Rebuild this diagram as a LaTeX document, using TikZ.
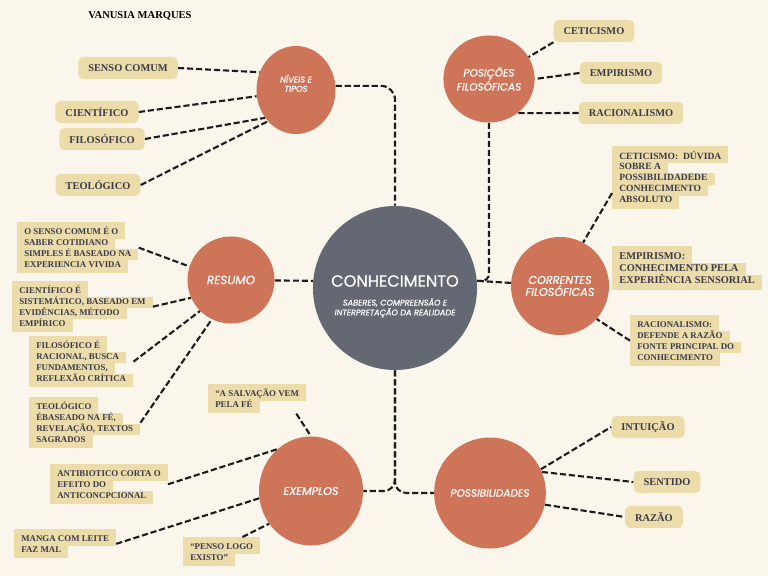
\documentclass[tikz,border=0pt]{standalone}
\usepackage{fontspec}
\setmainfont{Liberation Serif}
\newfontfamily\circfont{Poppins}[FakeBold=0.6]
\usetikzlibrary{shapes.geometric,calc}
\definecolor{paper}{HTML}{FAF6EB}
\definecolor{clay}{HTML}{CD7459}
\definecolor{slate}{HTML}{646873}
\definecolor{sand}{HTML}{EBDCAA}
\definecolor{ink}{HTML}{3B3B4A}
\definecolor{wire}{HTML}{1C1C1C}
\newcommand{\notelines}{\lineskiplimit=-20pt\lineskip=0pt}
% one highlighted line of a note; first line padded above, last line below
\newcommand{\hlbox}[3]{{\setlength{\fboxsep}{0pt}\colorbox{sand}{\hspace{5pt}\rule[\dimexpr-0.34\baselineskip-#1\relax]{0pt}{\dimexpr\baselineskip+0.3pt+#1+#2\relax}#3\hspace{5pt}}}}
\newcommand{\hl}[1]{\hlbox{0pt}{0pt}{#1}}
\newcommand{\hltop}[1]{\hlbox{0pt}{3.6pt}{#1}}
\newcommand{\hlend}[1]{\hlbox{1.4pt}{0pt}{#1}}

\begin{document}
\begin{tikzpicture}[x=0.025cm, y=-0.025cm,
  topic/.style 2 args={ellipse, fill=clay, text=white, align=center, inner sep=0pt, minimum width=#1, minimum height=#2},
  tag/.style={rectangle, rounded corners=3.5pt, fill=sand, text=ink, inner xsep=0.25cm, minimum height=0.55cm, font=\bfseries\fontsize{7.4}{8.8}\selectfont},
  note/.style={anchor=north west, inner sep=0pt, align=left, text=ink, font=\bfseries\fontsize{6.3}{7.7}\selectfont\notelines},
  link/.style={draw=wire, line width=1.5pt, dash pattern=on 4.4pt off 2pt}
]
  \useasboundingbox (0,0) rectangle (768,576);
  \fill[paper] (0,0) rectangle (768,576);

  \node[font=\bfseries\fontsize{7.5}{9}\selectfont] (author) at (140,16) {VANUSIA MARQUES};

  % circles
  \node[topic={4.1cm}{4.1cm}, fill=slate] (central) at (395,288) {};
  \node[text=white, font=\circfont\fontsize{11.5}{13}\selectfont] (centraltitle) at (395,281) {CONHECIMENTO};
  \node[text=white, align=center, font=\circfont\itshape\fontsize{5.8}{7}\selectfont] (centralsub) at (395,308) {SABERES, COMPREENSÃO E\\INTERPRETAÇÃO DA REALIDADE};
  \node[topic={1.975cm}{2.2cm}, font=\circfont\itshape\fontsize{6}{6.6}\selectfont] (niveis) at (296,90) {NÍVEIS E\\TIPOS\\[3pt]};
  \node[topic={2.175cm}{2.175cm}, font=\circfont\itshape\fontsize{7.5}{8.5}\selectfont] (posicoes) at (489,79) {POSIÇÕES\\FILOSÓFICAS};
  \node[topic={2.45cm}{2.45cm}, font=\circfont\itshape\fontsize{8}{8.5}\selectfont] (correntes) at (560,286) {CORRENTES\\FILOSÓFICAS};
  \node[topic={2.175cm}{2.175cm}, font=\circfont\itshape\fontsize{8.5}{9}\selectfont] (resumo) at (231,280) {RESUMO};
  \node[topic={2.6cm}{2.725cm}, font=\circfont\itshape\fontsize{8}{9}\selectfont] (exemplos) at (311,491) {EXEMPLOS};
  \node[topic={2.675cm}{2.775cm}, font=\circfont\itshape\fontsize{7.5}{9}\selectfont] (possib) at (490,493) {POSSIBILIDADES};

  % tags
  \node[tag] (senso) at (128,68) {SENSO COMUM};
  \node[tag] (cient) at (97,112) {CIENTÍFICO};
  \node[tag] (filo) at (102,139) {FILOSÓFICO};
  \node[tag] (teo) at (98,185) {TEOLÓGICO};
  \node[tag] (cet) at (594,31) {CETICISMO};
  \node[tag] (emp) at (621,73) {EMPIRISMO};
  \node[tag] (rac) at (631,113) {RACIONALISMO};
  \node[tag] (intu) at (648,427) {INTUIÇÃO};
  \node[tag] (sent) at (667,482) {SENTIDO};
  \node[tag] (razao) at (654,517) {RAZÃO};

  % notes
  \node[note] (sensonote) at (17,222) {\hltop{O SENSO COMUM É O}\\\hl{SABER COTIDIANO}\\\hl{SIMPLES É BASEADO NA}\\\hlend{EXPERIENCIA VIVIDA}};
  \node[note] (cientnote) at (12,281) {\hltop{CIENTÍFICO É}\\\hl{SISTEMÁTICO, BASEADO EM}\\\hl{EVIDÊNCIAS, MÉTODO}\\\hlend{EMPÍRICO}};
  \node[note] (filonote) at (29,336) {\hltop{FILOSÓFICO É}\\\hl{RACIONAL, BUSCA}\\\hl{FUNDAMENTOS,}\\\hlend{REFLEXÃO CRÍTICA}};
  \node[note] (teonote) at (29,397) {\hltop{TEOLÓGICO}\\\hl{ÉBASEADO NA FÉ,}\\\hl{REVELAÇÃO, TEXTOS}\\\hlend{SAGRADOS}};
  \node[note] (salvnote) at (208,384) {\hltop{“A SALVAÇÃO VEM}\\\hlend{PELA FÉ}};
  \node[note] (antinote) at (50,464) {\hltop{ANTIBIOTICO CORTA O}\\\hl{EFEITO DO}\\\hlend{ANTICONCPCIONAL}};
  \node[note] (manganote) at (14,529) {\hltop{MANGA COM LEITE}\\\hlend{FAZ MAL}};
  \node[note] (pensonote) at (183,537) {\hltop{“PENSO LOGO}\\\hlend{EXISTO”}};
  \node[note, font=\bfseries\fontsize{6.8}{7.8}\selectfont\notelines] (cetnote) at (612,146) {\hltop{CETICISMO:\ \ DÚVIDA}\\\hl{SOBRE A}\\\hl{POSSIBILIDADEDE}\\\hl{CONHECIMENTO}\\\hlend{ABSOLUTO}};
  \node[note, font=\bfseries\fontsize{7.4}{8.6}\selectfont\notelines] (empnote) at (612,246) {\hltop{EMPIRISMO:}\\\hl{CONHECIMENTO PELA}\\\hlend{EXPERIÊNCIA SENSORIAL}};
  \node[note] (racnote) at (630,315) {\hltop{RACIONALISMO:}\\\hl{DEFENDE A RAZÃO}\\\hl{FONTE PRINCIPAL DO}\\\hlend{CONHECIMENTO}};

  % main links
  \draw[link, rounded corners=10pt] (niveis.6) -| (central.north);
  \draw[link, rounded corners=5pt] (posicoes.south) |- (central.5);
  \draw[link] (correntes) -- (central.5);
  \draw[link] (resumo) -- (central.175);
  \draw[link, rounded corners=8pt] (central.south) |- (exemplos.east);
  \draw[link, rounded corners=8pt] (central.south) |- (possib.west);

  % branches
  \draw[link] (senso.east) -- (niveis.154);
  \draw[link] (cient.east) -- (niveis.189);
  \draw[link] (filo.east) -- (niveis.222);
  \draw[link] (teo.east) -- (niveis.228);
  \draw[link] (cet.south west) -- (posicoes.29);
  \draw[link] (emp.west) -- (posicoes.east);
  \draw[link] (rac.west) -- (posicoes.-50);
  \draw[link] (cetnote.195) -- (correntes.62);
  \draw[link] (racnote.west) -- (correntes.-42);
  \draw[link] (sensonote.east) -- (resumo.162);
  \draw[link] (cientnote.east) -- (resumo.204);
  \draw[link] (filonote.east) -- (resumo.225);
  \draw[link] (teonote.east) -- (resumo.244);
  \draw[link] ($(salvnote.south east)+(-10,0)$) -- (exemplos.north);
  \draw[link] (antinote.east) -- (exemplos.129);
  \draw[link] (manganote.east) -- (exemplos.188);
  \draw[link] ($(pensonote.north east)+(-18,0)$) -- (exemplos.218);
  \draw[link] (possib.25) -- (intu.west);
  \draw[link] (possib.22) -- (sent.west);
  \draw[link] (possib.-12) -- (razao.west);
\end{tikzpicture}
\end{document}
